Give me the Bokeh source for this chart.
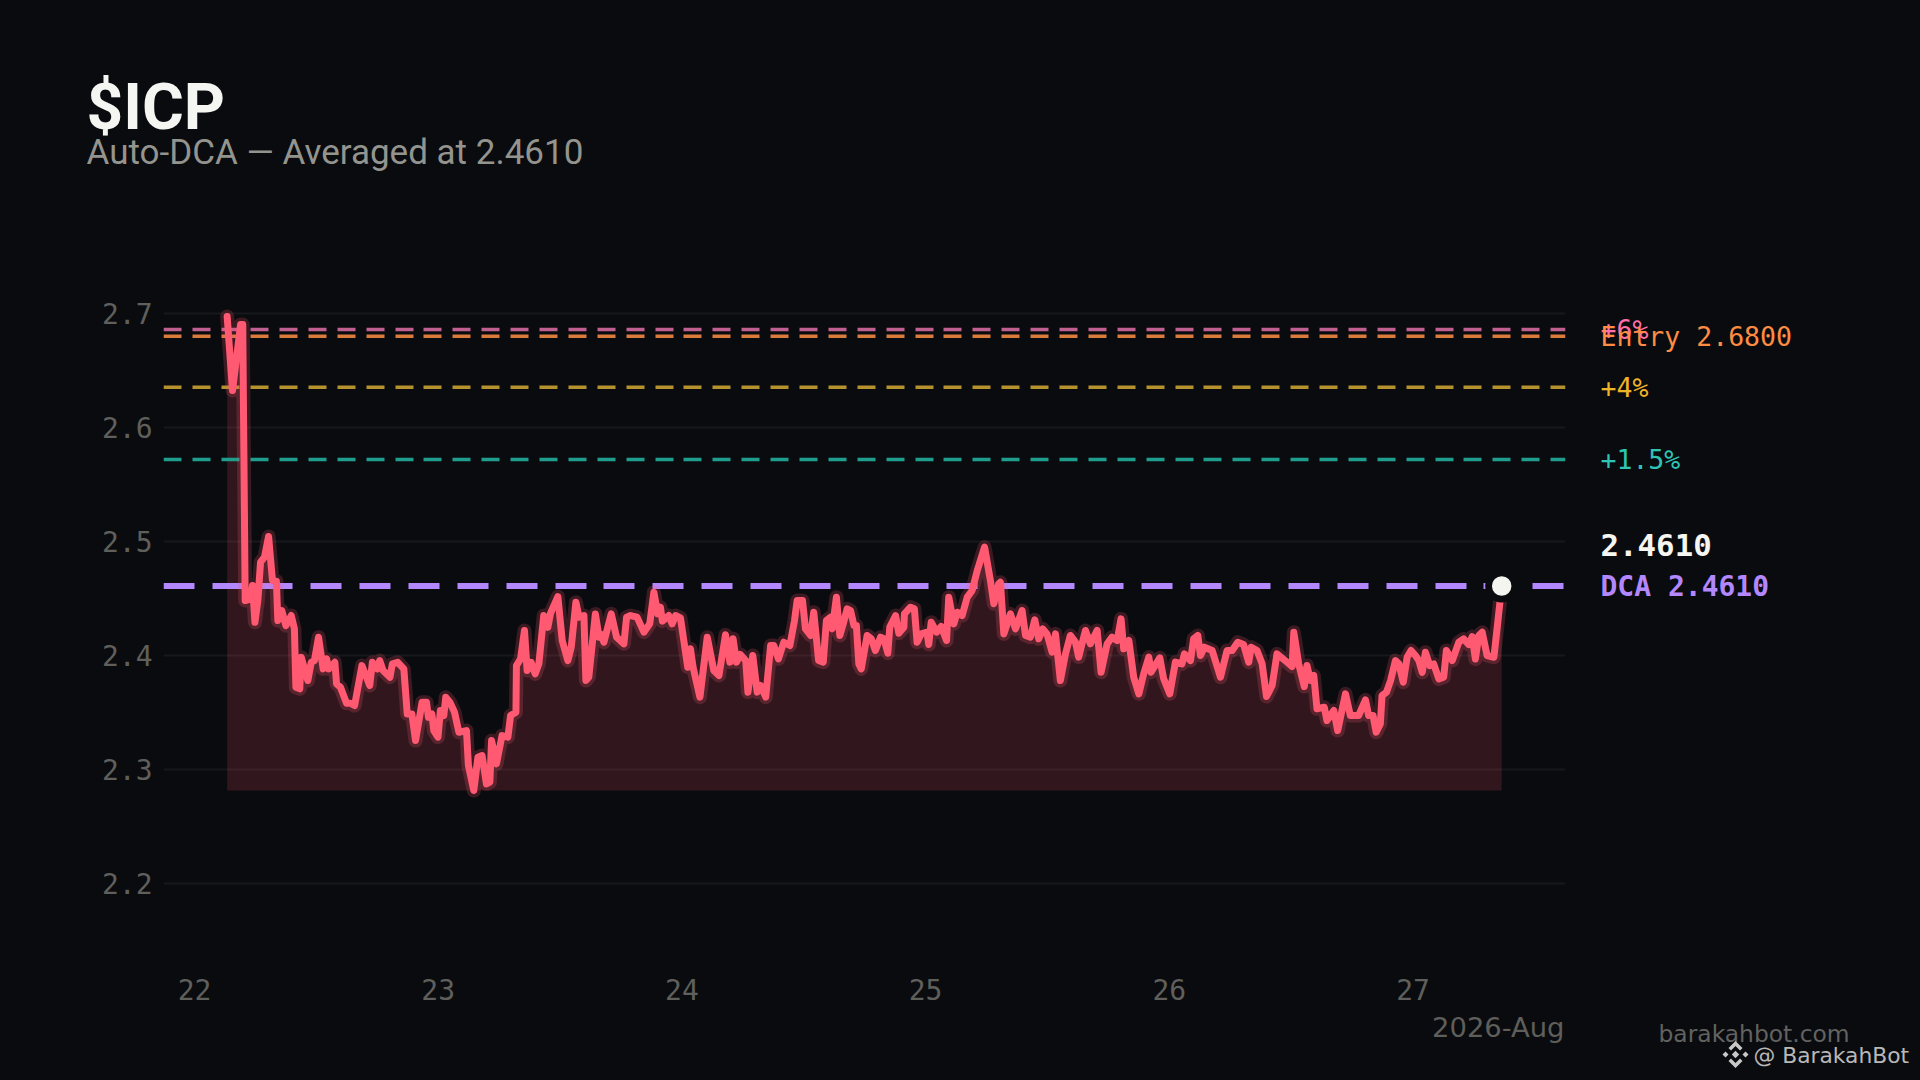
from bokeh.plotting import figure
from bokeh.models import Range1d, FixedTicker
from bokeh.core.properties import value
from bokeh.embed import file_html
from bokeh.resources import INLINE

BG = "#0a0b0e"
TITLE = "$ICP"
SUBTITLE = "Auto-DCA — Averaged at 2.4610"
MONTH = "2026-Aug"
DAY_TICKS = [22, 23, 24, 25, 26, 27]
PRICE_TICKS = [2.2, 2.3, 2.4, 2.5, 2.6, 2.7]

days = [
22.134,22.156,22.189,22.198,22.208,22.230,22.238,22.248,22.260,22.271,22.287,22.304,22.320,22.336,22.342,22.358,22.375,22.397,22.410,22.416,
22.432,22.438,22.465,22.479,22.492,22.509,22.528,22.542,22.551,22.576,22.583,22.599,22.624,22.640,22.657,22.687,22.719,22.730,22.750,22.760,
22.774,22.802,22.812,22.834,22.859,22.873,22.892,22.907,22.934,22.952,22.960,22.974,22.982,22.999,23.009,23.023,23.031,23.048,23.067,23.085,
23.116,23.124,23.146,23.163,23.180,23.198,23.212,23.219,23.239,23.262,23.286,23.297,23.319,23.321,23.338,23.354,23.365,23.381,23.398,23.413,
23.433,23.450,23.461,23.491,23.509,23.532,23.546,23.565,23.578,23.598,23.606,23.618,23.645,23.660,
23.666,23.680,23.710,23.732,23.762,23.773,23.789,23.816,23.844,23.868,23.885,23.901,23.912,23.920,23.946,23.960,23.974,23.994,24.024,24.035,
24.046,24.074,24.104,24.131,24.152,24.179,24.197,24.210,24.224,24.240,24.262,24.271,24.291,24.309,24.323,24.344,24.364,24.377,24.396,24.418,
24.443,24.462,24.473,24.495,24.507,24.528,24.541,24.561,24.580,24.593,24.610,24.617,24.634,24.648,24.664,24.678,24.692,24.706,24.716,24.726,
24.736,24.760,24.777,24.794,24.815,24.829,24.845,24.853,24.877,24.890,24.911,24.913,24.938,24.954,24.965,24.982,25.006,25.013,25.023,25.045,
25.064,25.086,25.095,25.116,25.130,25.150,25.171,25.191,25.212,25.242,25.266,25.280,25.300,
25.307,25.321,25.348,25.369,25.396,25.410,25.430,25.448,25.464,25.481,25.498,25.519,25.533,25.553,25.574,25.594,25.615,25.628,25.656,25.676,
25.704,25.720,25.745,25.765,25.786,25.802,25.813,25.834,25.854,25.875,25.895,25.916,25.925,25.961,25.977,26.002,26.025,26.052,26.062,26.087,
26.100,26.117,26.128,26.144,26.176,26.210,26.237,26.258,26.281,26.305,26.326,26.336,26.360,26.381,26.399,26.422,26.442,26.483,26.504,26.511,
26.531,26.554,26.565,26.579,26.593,26.606,26.636,26.647,26.675,26.691,26.723,26.743,26.777,26.805,26.818,26.836,26.849,26.866,
26.873,26.891,26.908,26.928,26.942,26.960,26.976,26.992,27.010,27.024,27.038,27.051,27.069,27.085,27.106,27.126,27.137,27.161,27.188,27.208,
27.229,27.243,27.256,27.270,27.284,27.304,27.332,27.364,
]
prices = [
2.6974,2.6325,2.6903,2.6903,2.4482,2.4497,2.4614,2.4292,2.4482,2.4819,2.4863,2.5044,2.4658,2.4652,2.4307,2.4395,2.4263,2.4351,2.4234,2.3722,
2.3708,2.3985,2.3781,2.3941,2.3956,2.4161,2.3883,2.3971,2.3883,2.3941,2.3751,2.3722,2.3582,2.3582,2.3561,2.3912,2.3737,2.3941,2.3883,2.3956,
2.3868,2.3810,2.3927,2.3941,2.3883,2.3488,2.3488,2.3254,2.3591,2.3591,2.3459,2.3488,2.3342,2.3284,2.3517,2.3474,2.3634,2.3591,2.3503,2.3327,
2.3342,2.3035,2.2816,2.3108,2.3123,2.2874,2.2889,2.3254,2.3050,2.3298,2.3284,2.3474,2.3503,2.3912,2.3971,2.4219,2.3868,2.3941,2.3839,2.3927,
2.4351,2.4248,2.4371,2.4517,2.4131,2.3956,2.4073,2.4468,2.4336,2.4351,2.3781,2.3810,2.4365,2.4161,
2.4190,2.4117,2.4366,2.4161,2.4103,2.4337,2.4351,2.4337,2.4205,2.4278,2.4556,2.4366,2.4424,2.4302,2.4351,2.4278,2.4351,2.4331,2.3898,2.4059,
2.3898,2.3635,2.4161,2.3869,2.3825,2.4182,2.3942,2.4147,2.3942,2.4009,2.3956,2.3679,2.4000,2.3679,2.3737,2.3635,2.4088,2.4088,2.3971,2.4117,
2.4088,2.4307,2.4483,2.4483,2.4234,2.4176,2.4380,2.3956,2.3942,2.4307,2.4337,2.4234,2.4512,2.4176,2.4293,2.4410,2.4395,2.4263,2.4263,2.3927,
2.3883,2.4176,2.4147,2.4044,2.4161,2.4147,2.4021,2.4249,2.4351,2.4196,2.4249,2.4366,2.4424,2.4410,2.4117,2.4190,2.4205,2.4097,2.4293,2.4205,
2.4255,2.4132,2.4512,2.4278,2.4380,2.4351,2.4512,2.4571,2.4746,2.4951,2.4658,2.4454,2.4629,
2.4644,2.4190,2.4366,2.4234,2.4395,2.4176,2.4161,2.4313,2.4147,2.4234,2.4190,2.4030,2.4190,2.3781,2.4015,2.4176,2.4117,2.3986,2.4220,2.4103,
2.4220,2.3854,2.4103,2.4161,2.4132,2.4322,2.4059,2.4132,2.3810,2.3664,2.3840,2.3986,2.3854,2.3980,2.3796,2.3664,2.3942,2.3927,2.4015,2.3956,
2.4147,2.4176,2.4000,2.4073,2.4044,2.3810,2.4044,2.4044,2.4117,2.4097,2.3942,2.4073,2.4044,2.3927,2.3641,2.3737,2.4015,2.3942,2.3904,2.4205,
2.3927,2.3728,2.3913,2.3781,2.3825,2.3533,2.3547,2.3430,2.3518,2.3342,2.3664,2.3474,2.3474,2.3611,2.3474,2.3474,2.3328,2.3401,
2.3649,2.3678,2.3780,2.3956,2.3927,2.3766,2.3985,2.4044,2.4000,2.3956,2.3853,2.4029,2.3912,2.3927,2.3795,2.3810,2.4044,2.3956,2.4117,2.4146,
2.4096,2.4166,2.3970,2.4175,2.4204,2.4000,2.3985,2.4610,
]
FILL_BASE = 2.2816

level_names = ["+6%", "Entry 2.6800", "+4%", "+1.5%"]
level_values = [2.686, 2.680, 2.6353, 2.5719]
level_line_colors = ["#c06090", "#d97b3b", "#b5922e", "#1f9e8e"]
level_text_colors = ["#ff6fa8", "#ff8c42", "#f0b429", "#2ec4b6"]
DCA_PRICE = 2.4610
DCA_LABEL = "DCA 2.4610"
LAST_LABEL = "2.4610"

LEFT, RIGHT, TOP, BOTTOM = 163, 1565, 250, 960   # frame edges on the page
X0, X1 = 21.8728, 27.6258
Y0, Y1 = 2.1325, 2.7553

p = figure(width=1920, height=1080, output_backend="svg", toolbar_location=None,
           x_range=Range1d(X0, X1), y_range=Range1d(Y0, Y1),
           min_border_left=LEFT, min_border_right=1920 - RIGHT,
           min_border_top=TOP, min_border_bottom=1080 - BOTTOM,
           background_fill_color=BG, border_fill_color=BG, outline_line_color=None)
p.styles = {"background-color": BG}

p.xgrid.visible = False
p.ygrid.ticker = FixedTicker(ticks=PRICE_TICKS)
p.ygrid.grid_line_color = "#17181b"
p.ygrid.grid_line_width = 2

MONO = "DejaVu Sans Mono"
for ax in (p.xaxis[0], p.yaxis[0]):
    ax.axis_line_color = None
    ax.major_tick_line_color = None
    ax.minor_tick_line_color = None
    ax.major_label_text_font = MONO
    ax.major_label_text_font_size = "28px"
    ax.major_label_text_color = "#5f5f5c"
p.xaxis[0].ticker = FixedTicker(ticks=DAY_TICKS)
p.xaxis[0].major_label_overrides = {d: str(d) for d in DAY_TICKS}
p.xaxis[0].major_label_standoff = 12
p.yaxis[0].ticker = FixedTicker(ticks=PRICE_TICKS)
p.yaxis[0].major_label_overrides = {t: f"{t:.1f}" for t in PRICE_TICKS}
p.yaxis[0].major_label_standoff = 5

p.varea(days, FILL_BASE, prices, fill_color="#ff5a72", fill_alpha=0.16)

THIN = " ".join(["18 11"] * 8 + ["18 10"])
WIDE = " ".join(["31 18"] * 8 + ["31 17"])
for v, c in zip(level_values, level_line_colors):
    p.segment(X0, v, X1, v, line_color=c, line_width=3.5, line_dash=THIN)
p.segment(X0, DCA_PRICE, X1, DCA_PRICE, line_color="#b388ff", line_width=6, line_dash=WIDE)

p.line(days, prices, line_color="#ff5a72", line_width=14, line_alpha=0.2, line_join="round", line_cap="round")
p.line(days, prices, line_color="#ff5a72", line_width=7, line_join="round", line_cap="round")

p.scatter([days[-1]], [DCA_PRICE], size=33, fill_color=BG, line_color=None)
p.scatter([days[-1]], [DCA_PRICE], size=19.5, fill_color="#f5f5f0", line_color=None)


def data_x(px):
    return X0 + (px - LEFT) * (X1 - X0) / (RIGHT - LEFT)


def data_y(py):
    return Y1 - (py - TOP) * (Y1 - Y0) / (BOTTOM - TOP)


def put_text(text, x, y, font, size, color, style="normal", align="left", baseline="alphabetic"):
    p.text([x], [y], text=[text], level="overlay", text_font=value(font), text_font_size=size,
           text_color=color, text_font_style=style, text_align=align, text_baseline=baseline)


def page_text(text, px, py, font, size, color, **kw):
    put_text(text, data_x(px), data_y(py), font, size, color, **kw)


page_text(TITLE, 86, 107, "Roboto", "64px", "#f5f5f2", style="bold")
page_text(SUBTITLE, 86, 152, "Roboto", "35px", "#94948e")

LABEL_X = data_x(1600)
for n, v, c in zip(level_names, level_values, level_text_colors):
    put_text(n, LABEL_X, v, MONO, "26.5px", c, baseline="middle")
put_text(DCA_LABEL, LABEL_X, DCA_PRICE, MONO, "28px", "#b388ff", style="bold", baseline="middle")
page_text(LAST_LABEL, 1600, 544, MONO, "30.8px", "#f5f5f2", style="bold", baseline="middle")

page_text(MONTH, 1564, 1027, "DejaVu Sans", "27.4px", "#5e5e5a", align="right")
page_text("barakahbot.com", 1658, 1033, "DejaVu Sans", "23.4px", "#626260")
page_text("@ BarakahBot", 1753, 1055, "DejaVu Sans", "21.8px", "#b8b8b8")

LOGO_CX, LOGO_CY = 1735, 1054
LOGO_COLOR = "#c8c8c8"
logo_parts = [
    [(-3.7, 0), (0, -3.7), (3.7, 0), (0, 3.7)],
    [(-13, 0), (-10, -3), (-7, 0), (-10, 3)],
    [(7, 0), (10, -3), (13, 0), (10, 3)],
    [(0, -13.5), (7, -6.5), (4.5, -4), (0, -8.5), (-4.5, -4), (-7, -6.5)],
    [(0, 13.5), (7, 6.5), (4.5, 4), (0, 8.5), (-4.5, 4), (-7, 6.5)],
]
for part in logo_parts:
    p.patch([data_x(LOGO_CX + a) for a, _ in part], [data_y(LOGO_CY + b) for _, b in part],
            level="overlay", fill_color=LOGO_COLOR, line_color=None)

html = file_html(p, INLINE)
html = html.replace("<head>", f"<head><style>html,body{{background:{BG}}}</style>", 1)
open("out.html", "w").write(html)
